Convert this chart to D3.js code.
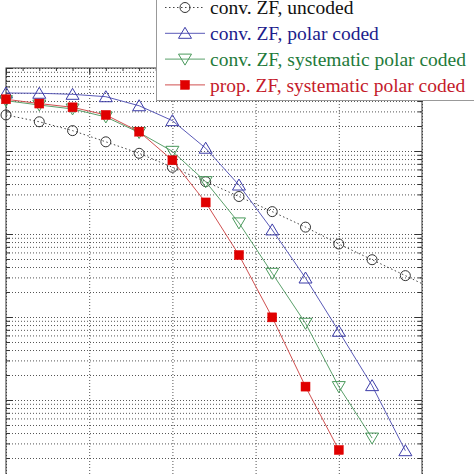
<!DOCTYPE html>
<html>
<head>
<meta charset="utf-8">
<script src="https://cdn.jsdelivr.net/npm/d3@7"></script>
<style>
  body { margin: 0; background: #fff; }
  svg { display: block; }
  .legend-text { font-family: "Liberation Serif", "Times New Roman", "DejaVu Serif", serif; font-size: 19.5px; }
</style>
</head>
<body>
<div id="chart"></div>
<script>
// SNR points (dB) and BER values
const snr = [0, 2, 4, 6, 8, 10, 12, 14, 16, 18, 20, 22, 24];
const snrUncoded = [0, 2, 4, 6, 8, 10, 12, 14, 16, 18, 20, 22, 24, 26];
const berUncoded = [0.272, 0.225, 0.176, 0.129, 0.0938, 0.0636, 0.0427, 0.0283, 0.0186, 0.0121, 0.00758, 0.0049, 0.00315, 0.00202];
const berPolar = [0.5, 0.496, 0.482, 0.451, 0.351, 0.232, 0.108, 0.0389, 0.0112, 0.00295, 6.73e-4, 1.49e-4, 2.45e-5];
const berSysPolar = [0.404, 0.358, 0.321, 0.257, 0.167, 0.0991, 0.0427, 0.0136, 0.00336, 8.4e-4, 1.45e-4, 3.48e-5];
const berProp = [0.42, 0.373, 0.336, 0.272, 0.171, 0.0773, 0.024, 0.00558, 9.9e-4, 1.45e-4, 2.5e-5];
const xMajorTicks = [0, 5, 10, 15, 20, 25];
const legendLabels = [
    "conv. ZF, uncoded",
    "conv. ZF, polar coded",
    "conv. ZF, systematic polar coded",
    "prop. ZF, systematic polar coded"
];

const W = 474, H = 474;
const box = { left: 6, right: 422, top: 68, bottom: 483 };

const svg = d3.select("#chart").append("svg")
    .attr("width", W)
    .attr("height", H);

const x = d3.scaleLinear().domain([0, 25]).range([box.left, box.right]);
const y = d3.scaleLog().domain([1e-5, 1]).range([box.bottom, box.top]);

// all log ticks 1..9 x 10^k
const yTicks = [];
for (let k = -5; k < 0; k++) {
    for (let m = 1; m <= 9; m++) yTicks.push(m * Math.pow(10, k));
}
yTicks.push(1);
const yMajor = yTicks.filter(v => Math.abs(Math.log10(v) - Math.round(Math.log10(v))) < 1e-9);
const xMinor = d3.range(0, 26, 1);

svg.append("defs").append("clipPath").attr("id", "plotclip")
    .append("rect")
    .attr("x", box.left).attr("y", box.top)
    .attr("width", box.right - box.left).attr("height", box.bottom - box.top);

// grid
const grid = svg.append("g").attr("class", "grid");
grid.append("g")
    .attr("transform", `translate(${box.left},0)`)
    .call(d3.axisLeft(y).tickValues(yTicks).tickSize(-(box.right - box.left)).tickFormat(""));
grid.append("g")
    .attr("transform", `translate(0,${box.bottom})`)
    .call(d3.axisBottom(x).tickValues(xMajorTicks).tickSize(-(box.bottom - box.top)).tickFormat(""));
grid.selectAll(".domain").remove();
grid.selectAll("line")
    .attr("stroke", "#555")
    .attr("stroke-width", 1)
    .attr("stroke-dasharray", "1,2");

// inward tick marks
const ticks = svg.append("g").attr("class", "ticks");
ticks.append("g").attr("transform", `translate(${box.left},0)`)
    .call(d3.axisLeft(y).tickValues(yTicks).tickSize(-4).tickFormat(""));
ticks.append("g").attr("transform", `translate(${box.left},0)`)
    .call(d3.axisLeft(y).tickValues(yMajor).tickSize(-7).tickFormat(""));
ticks.append("g").attr("transform", `translate(${box.right},0)`)
    .call(d3.axisRight(y).tickValues(yTicks).tickSize(-4).tickFormat(""));
ticks.append("g").attr("transform", `translate(${box.right},0)`)
    .call(d3.axisRight(y).tickValues(yMajor).tickSize(-7).tickFormat(""));
ticks.append("g").attr("transform", `translate(0,${box.top})`)
    .call(d3.axisTop(x).tickValues(xMinor).tickSize(-3).tickFormat(""));
ticks.append("g").attr("transform", `translate(0,${box.top})`)
    .call(d3.axisTop(x).tickValues(xMajorTicks).tickSize(-6).tickFormat(""));
ticks.selectAll(".domain").remove();
ticks.selectAll("line").attr("stroke", "#333").attr("stroke-width", 1);

// frame
svg.append("rect")
    .attr("x", box.left).attr("y", box.top)
    .attr("width", box.right - box.left).attr("height", box.bottom - box.top)
    .attr("fill", "none")
    .attr("stroke", "#333")
    .attr("stroke-width", 1);

const series = [
    { xs: snrUncoded, ys: berUncoded, line: "#444", mark: "#333", dash: "1.5,2.5", marker: "circle" },
    { xs: snr, ys: berPolar, line: "#5a5ab8", mark: "#3c3ca8", dash: null, marker: "up" },
    { xs: snr.slice(0, berSysPolar.length), ys: berSysPolar, line: "#5aa06a", mark: "#4a9a5c", dash: null, marker: "down" },
    { xs: snr.slice(0, berProp.length), ys: berProp, line: "#d05050", mark: "#e00000", dash: null, marker: "square" }
];

function drawMarker(g, type, cx, cy, color) {
    if (type === "circle") {
        g.append("circle").attr("cx", cx).attr("cy", cy).attr("r", 5)
            .attr("fill", "none").attr("stroke", color).attr("stroke-width", 1);
    } else if (type === "up") {
        g.append("path")
            .attr("d", `M${cx},${cy - 6}L${cx + 6.5},${cy + 5}L${cx - 6.5},${cy + 5}Z`)
            .attr("fill", "none").attr("stroke", color).attr("stroke-width", 1);
    } else if (type === "down") {
        g.append("path")
            .attr("d", `M${cx},${cy + 6}L${cx + 6.5},${cy - 5}L${cx - 6.5},${cy - 5}Z`)
            .attr("fill", "none").attr("stroke", color).attr("stroke-width", 1);
    } else {
        g.append("rect").attr("x", cx - 4.5).attr("y", cy - 4.5)
            .attr("width", 9).attr("height", 9)
            .attr("fill", color).attr("stroke", color).attr("stroke-width", 0.5);
    }
}

const plot = svg.append("g");
series.forEach(s => {
    const pts = s.xs.map((v, i) => [v, s.ys[i]]);
    plot.append("path")
        .datum(pts)
        .attr("clip-path", "url(#plotclip)")
        .attr("fill", "none")
        .attr("stroke", s.line)
        .attr("stroke-width", 1)
        .attr("stroke-dasharray", s.dash)
        .attr("d", d3.line().x(d => x(d[0])).y(d => y(d[1])));
    const mg = plot.append("g");
    pts.filter(d => d[0] <= 25).forEach(d => drawMarker(mg, s.marker, x(d[0]), y(d[1]), s.mark));
});

// legend
const legend = svg.append("g");
legend.append("rect")
    .attr("x", 156.5).attr("y", -10)
    .attr("width", 340).attr("height", 110.5)
    .attr("fill", "#fff")
    .attr("stroke", "#999")
    .attr("stroke-width", 1);
const textColors = ["#111", "#1c1c8c", "#1e7a3a", "#c41a2a"];
legendLabels.forEach((lab, i) => {
    const cy = 7.5 + i * 25.8;
    const s = series[i];
    legend.append("line")
        .attr("x1", 165).attr("x2", 205)
        .attr("y1", cy).attr("y2", cy)
        .attr("stroke", s.line)
        .attr("stroke-width", 1)
        .attr("stroke-dasharray", s.dash);
    drawMarker(legend, s.marker, 185, cy, s.mark);
    legend.append("text")
        .attr("class", "legend-text")
        .attr("x", 210).attr("y", cy + 6.6)
        .attr("fill", textColors[i])
        .text(lab);
});
</script>
</body>
</html>
